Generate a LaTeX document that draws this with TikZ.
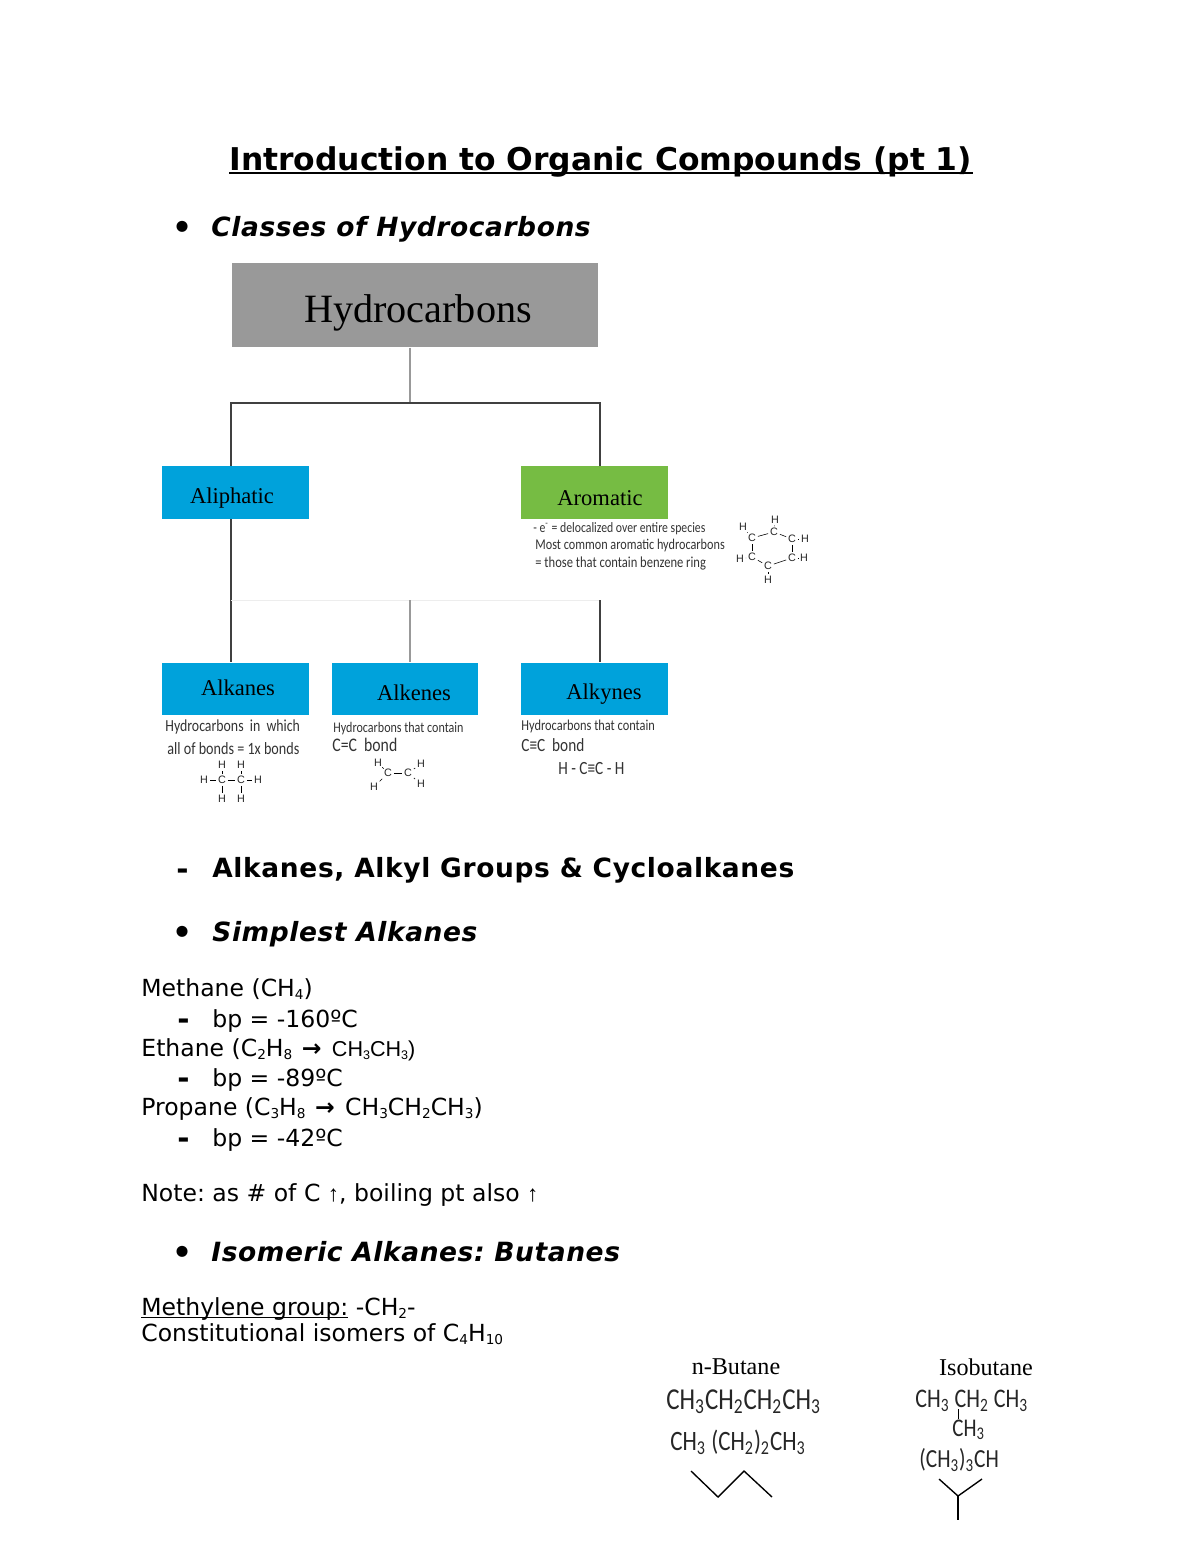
\documentclass[tikz,border=0pt]{standalone}
\usepackage{fontspec}
\setmainfont{DejaVu Sans}
\newfontfamily\boxfont{Liberation Serif}
\newfontfamily\handfont[FakeStretch=0.82]{Carlito}
\newfontfamily\thinfont{Liberation Sans}
\usetikzlibrary{positioning}
\definecolor{bluebox}{HTML}{00A2DB}
\definecolor{greenbox}{HTML}{76BC43}
\definecolor{graybox}{HTML}{999999}
\newcommand{\sub}[1]{\raisebox{-0.3ex}{\scalebox{0.58}{#1}}}
\newcommand{\hsub}[1]{\textsubscript{#1}}
\newcommand{\uparrowmark}{{\fontsize{11.5}{12}\thinfont ↑}}
\newcommand{\yieldsmark}{\hspace{1pt}\textbf{→}\hspace{1.5pt}}
\frenchspacing

\tikzset{
  body/.style={anchor=base west, inner sep=0pt, font=\fontsize{12}{14}\selectfont},
  heading/.style={anchor=base west, inner sep=0pt, font=\fontsize{13.5}{16}\selectfont\bfseries\itshape\addfontfeature{LetterSpace=2.2}},
  headdot/.style={anchor=base, inner sep=0pt, font=\fontsize{16}{18}\selectfont\bfseries},
  dashmark/.style={anchor=base west, inner sep=0pt, font=\fontsize{15}{16}\selectfont\bfseries},
  classbox/.style={fill=bluebox, minimum width=75pt, minimum height=27pt, inner sep=0pt},
  boxtext/.style={inner sep=0pt, font=\fontsize{11.5}{14}\boxfont},
  hand/.style={anchor=base west, inner sep=0pt, text=black!80, font=\fontsize{8}{10}\handfont},
  bigHand/.style={anchor=base west, inner sep=0pt, text=black!85, font=\fontsize{15.5}{18}\handfont},
  atom/.style={inner sep=0.8pt, text=black!85, font=\fontsize{5.5}{6}\thinfont},
  bond/.style={line width=0.3pt},
  treeline/.style={line width=0.6pt, black!75},
  graylink/.style={line width=0.6pt, black!40}
}

\begin{document}
\begin{tikzpicture}[x=0.51pt, y=-0.51pt]
\useasboundingbox (0,0) rectangle (1200,1553);

\node[anchor=base west, inner sep=0pt, font=\fontsize{16}{18}\selectfont\bfseries] (title) at (229,171)
  {Introduction to Organic Compounds (pt 1)};
\draw[line width=1.1pt] ([yshift=-1.1pt]title.base west) -- ([yshift=-1.1pt]title.base east);

% Hydrocarbon tree
\node[heading] (classes) at (211,236) {Classes of Hydrocarbons};
\node[headdot] (classesdot) at (183,238) {•};

\node[fill=graybox, minimum width=186.7pt, minimum height=43pt, inner sep=0pt] (hydrocarbons) at (415,305) {};
\node[inner sep=0pt, font=\fontsize{20.5}{24}\boxfont] (hydrocarbonstext) at (418,313) {Hydrocarbons};

\node[classbox] (aliphatic) at (235.5,492.5) {};
\node[boxtext] (aliphatictext) at (232,498) {Aliphatic};
\node[classbox, fill=greenbox] (aromatic) at (594.5,492.5) {};
\node[boxtext] (aromatictext) at (600,498) {Aromatic};
\node[classbox] (alkanes) at (235.5,689) {};
\node[boxtext] (alkanestext) at (238,688) {Alkanes};
\node[classbox, minimum width=74.5pt] (alkenes) at (405,689) {};
\node[boxtext] (alkenestext) at (414,693) {Alkenes};
\node[classbox] (alkynes) at (594.5,689) {};
\node[boxtext] (alkynestext) at (604,694) {Alkynes};

\coordinate (trunk) at (410,403);
\coordinate (trunkL) at (231,403);
\coordinate (trunkR) at (600,403);
\coordinate (splitL) at (231,600);
\coordinate (splitM) at (410,600);
\coordinate (splitR) at (600,600);

\draw[graylink] (hydrocarbons.south -| trunk) -- (trunk);
\draw[treeline] (aliphatic.north -| trunkL) -- (trunkL) -- (trunkR) -- (aromatic.north -| trunkR);
\draw[treeline] (aliphatic.south -| trunkL) -- (alkanes.north -| trunkL);
\draw[line width=0.5pt, black!7] (splitL) -- (splitR);
\draw[graylink] (splitM) -- (alkenes.north -| splitM);
\draw[treeline] (splitR) -- (alkynes.north -| splitR);

% Handwritten notes under the boxes
\node[hand, font=\fontsize{7.3}{10}\handfont] (aromaticA) at (533,532) {- e\textsuperscript{-} = delocalized over entire species};
\node[hand, font=\fontsize{7.6}{10}\handfont] (aromaticB) at (535,549) {Most common aromatic hydrocarbons};
\node[hand, font=\fontsize{7.8}{10}\handfont] (aromaticC) at (535,567) {= those that contain benzene ring};
\node[hand, font=\fontsize{8.6}{10}\handfont] (alkanesA) at (165,731) {Hydrocarbons\ \ in\ \ which};
\node[hand, font=\fontsize{8.8}{10}\handfont] (alkanesB) at (167,754) {all of bonds = 1x bonds};
\node[hand, font=\fontsize{7.5}{10}\handfont] (alkenesA) at (333,732) {Hydrocarbons that contain};
\node[hand, font=\fontsize{9.8}{11}\handfont] (alkenesB) at (332,751) {C=C\ \ bond};
\node[hand, font=\fontsize{7.7}{10}\handfont] (alkynesA) at (521,730) {Hydrocarbons that contain};
\node[hand, font=\fontsize{9.5}{11}\handfont] (alkynesB) at (521,751) {C≡C\ \ bond};
\node[hand, font=\fontsize{9.5}{11}\handfont] (alkyneformula) at (558,774) {H - C≡C - H};

% Benzene ring
\node[atom] (bzC1) at (774,532) {C};
\node[atom] (bzC2) at (792,539) {C};
\node[atom] (bzC3) at (792,558) {C};
\node[atom] (bzC4) at (768,566) {C};
\node[atom] (bzC5) at (752,557) {C};
\node[atom] (bzC6) at (752,538) {C};
\node[atom] (bzH1) at (775,520) {H};
\node[atom] (bzH2) at (805,539) {H};
\node[atom] (bzH3) at (804,558) {H};
\node[atom] (bzH4) at (768,580) {H};
\node[atom] (bzH5) at (740,559) {H};
\node[atom] (bzH6) at (743,527) {H};
\foreach \a/\b in {bzC1/bzC2,bzC2/bzC3,bzC3/bzC4,bzC4/bzC5,bzC5/bzC6,bzC6/bzC1,bzC1/bzH1,bzC2/bzH2,bzC3/bzH3,bzC4/bzH4,bzC5/bzH5,bzC6/bzH6}
  \draw[bond] (\a) -- (\b);

% Ethane
\node[atom] (etC1) at (222,780) {C};
\node[atom] (etC2) at (241,780) {C};
\node[atom] (etH1) at (204,780) {H};
\node[atom] (etH2) at (258,780) {H};
\node[atom] (etH3) at (222,765) {H};
\node[atom] (etH4) at (241,765) {H};
\node[atom] (etH5) at (222,799) {H};
\node[atom] (etH6) at (241,799) {H};
\foreach \a/\b in {etC1/etC2,etC1/etH1,etC2/etH2,etC1/etH3,etC2/etH4,etC1/etH5,etC2/etH6}
  \draw[bond] (\a) -- (\b);

% Ethene
\node[atom] (enC1) at (388,773) {C};
\node[atom] (enC2) at (408,773) {C};
\node[atom] (enH1) at (378,763) {H};
\node[atom] (enH2) at (374,787) {H};
\node[atom] (enH3) at (421,764) {H};
\node[atom] (enH4) at (421,784) {H};
\foreach \a/\b in {enC1/enC2,enC1/enH1,enC1/enH2,enC2/enH3,enC2/enH4}
  \draw[bond] (\a) -- (\b);

% Alkanes section
\node[dashmark] (alkanesdash) at (176,879) {-};
\node[body, font=\fontsize{13.5}{16}\selectfont\bfseries\addfontfeature{LetterSpace=2.4}] (alkanesheading) at (212,877) {Alkanes, Alkyl Groups \& Cycloalkanes};
\node[heading] (simplest) at (212,941) {Simplest Alkanes};
\node[headdot] (simplestdot) at (183,943) {•};

\node[body] (methane) at (141,996) {Methane (CH\sub{4})};
\node[dashmark] (methanedash) at (177,1029) {-};
\node[body] (methanebp) at (212,1027) {bp = -160ºC};
\node[body] (ethane) at (141,1056) {Ethane (C\sub{2}H\sub{8} \yieldsmark{} {\fontsize{11}{13}\thinfont CH\sub{3}CH\sub{3})}};
\node[dashmark] (ethanedash) at (177,1088) {-};
\node[body] (ethanebp) at (212,1086) {bp = -89ºC};
\node[body] (propane) at (141,1115) {Propane (C\sub{3}H\sub{8} \yieldsmark{} CH\sub{3}CH\sub{2}CH\sub{3})};
\node[dashmark] (propanedash) at (177,1148) {-};
\node[body] (propanebp) at (212,1146) {bp = -42ºC};
\node[body] (note) at (141,1201) {Note: as \# of C \uparrowmark, boiling pt also \uparrowmark};

\node[heading] (isomeric) at (211,1261) {Isomeric Alkanes: Butanes};
\node[headdot] (isomericdot) at (183,1263) {•};
\node[body] (methylene) at (141,1315) {\underline{\smash{Methylene group:}} -CH\sub{2}-};
\node[body] (constitutional) at (141,1341) {Constitutional isomers of C\sub{4}H\sub{10}};

% Butanes
\node[boxtext, font=\fontsize{12.3}{14}\boxfont] (nbutane) at (736,1367) {n-Butane};
\node[boxtext, font=\fontsize{12.3}{14}\boxfont] (isobutane) at (986,1367) {Isobutane};
\node[bigHand] (nchain) at (666,1409) {CH\hsub{3}CH\hsub{2}CH\hsub{2}CH\hsub{3}};
\node[bigHand, font=\fontsize{14.3}{18}\handfont] (ncondensed) at (670,1450) {CH\hsub{3} (CH\hsub{2})\hsub{2}CH\hsub{3}};
\node[bigHand, font=\fontsize{13.7}{18}\handfont] (isochain) at (915,1407) {CH\hsub{3} CH\hsub{2} CH\hsub{3}};
\node[bigHand, font=\fontsize{13}{15}\handfont] (isobranch) at (952,1436) {CH\hsub{3}};
\node[bigHand, font=\fontsize{13.3}{15}\handfont] (isocondensed) at (919,1467) {(CH\hsub{3})\hsub{3}CH};
\coordinate (isotick) at (958,1409);
\draw[bond, line width=0.5pt] (isotick) -- (isobranch.north -| isotick);

\coordinate (na) at (691,1471);
\coordinate (nb) at (718,1497);
\coordinate (nc) at (744,1471);
\coordinate (nd) at (772,1497);
\draw[line width=0.7pt] (na) -- (nb) -- (nc) -- (nd);
\coordinate (ia) at (939,1479);
\coordinate (ib) at (958,1496);
\coordinate (ic) at (982,1479);
\coordinate (id) at (958,1520);
\draw[line width=0.7pt] (ia) -- (ib) -- (ic);
\draw[line width=0.7pt] (ib) -- (id);
\end{tikzpicture}
\end{document}
